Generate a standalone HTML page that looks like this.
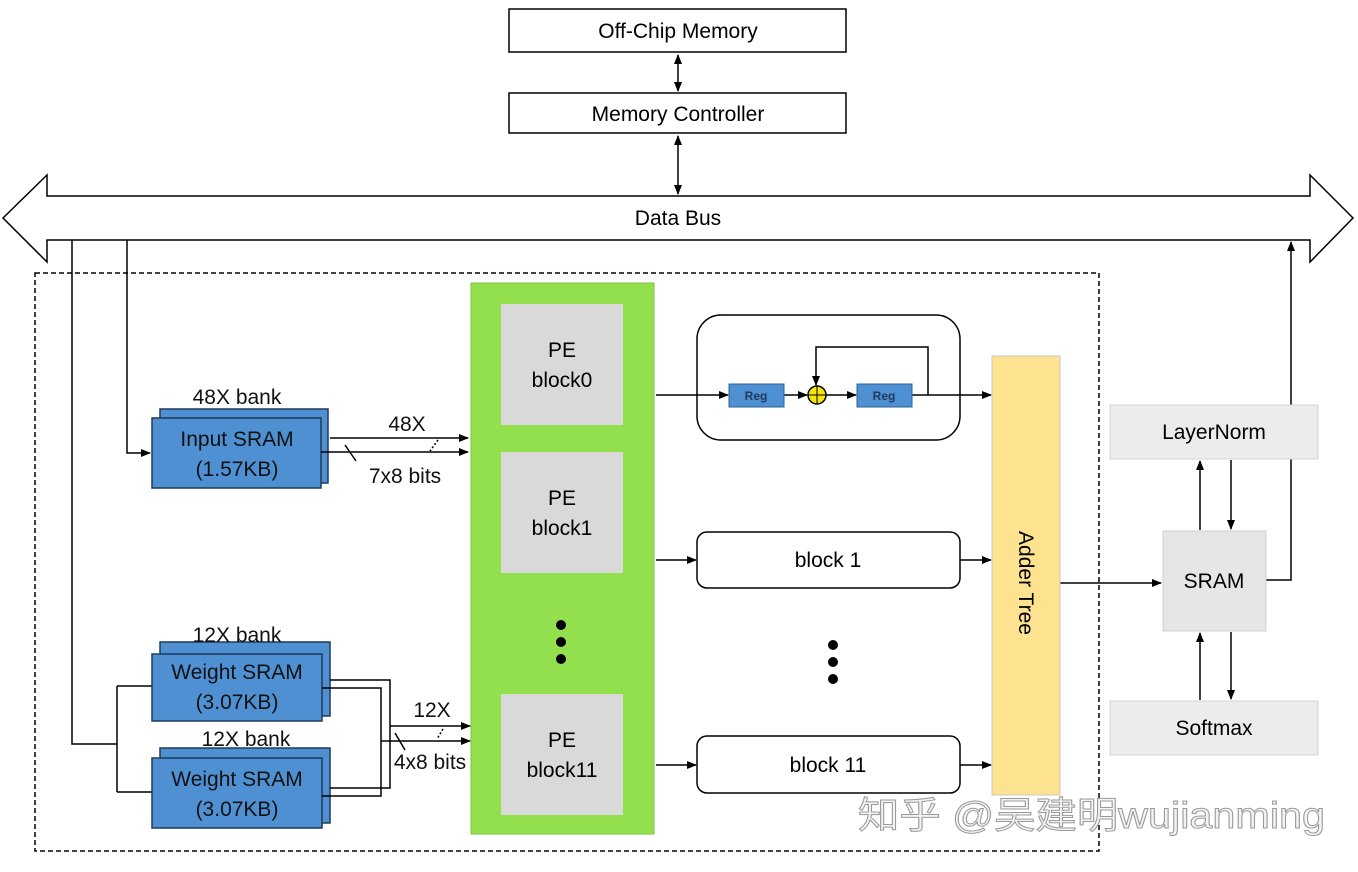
<!DOCTYPE html>
<html><head><meta charset="utf-8"><style>body{margin:0;background:#fff}svg{display:block}</style></head>
<body>
<svg width="1358" height="872" viewBox="0 0 1358 872" xmlns="http://www.w3.org/2000/svg" font-family="Liberation Sans, sans-serif">
<defs>
<marker id="a" markerWidth="10" markerHeight="10" refX="9" refY="5" orient="auto" markerUnits="userSpaceOnUse"><path d="M0,1 L10,5 L0,9z" fill="#000"/></marker>
<marker id="s" markerWidth="10" markerHeight="10" refX="1" refY="5" orient="auto" markerUnits="userSpaceOnUse"><path d="M10,1 L0,5 L10,9z" fill="#000"/></marker>
</defs>
<g stroke="#000" stroke-width="1.5" fill="none">
<rect x="509" y="9" width="337" height="43" fill="#fff"/>
<rect x="509" y="93" width="337" height="40" fill="#fff"/>
<line x1="678" y1="55" x2="678" y2="91" marker-end="url(#a)" marker-start="url(#s)"/>
<line x1="678" y1="136" x2="678" y2="194" marker-end="url(#a)" marker-start="url(#s)"/>
<path d="M3,218 L47,175 L47,196 L1310,196 L1310,175 L1353,218 L1310,262 L1310,240 L47,240 L47,262 Z" fill="#fff"/>
<rect x="35" y="273" width="1064" height="578" stroke-dasharray="5,3"/>
<path d="M127,240 V453 H150" marker-end="url(#a)"/>
<path d="M72,240 V744 H117 M117,686 V792 M117,686 H152 M117,792 H152"/>
</g>
<rect x="471" y="283" width="183" height="551" fill="#92e04e" stroke="#7cc63c"/>
<g fill="#d9d9d9"><rect x="501" y="304" width="122" height="121"/><rect x="501" y="452" width="122" height="121"/><rect x="501" y="694" width="122" height="121"/></g>
<g font-size="21" text-anchor="middle" fill="#000" font-weight="500">
<text x="562" y="357">PE</text><text x="562" y="387">block0</text>
<text x="562" y="505">PE</text><text x="562" y="535">block1</text>
<text x="562" y="747">PE</text><text x="562" y="777">block11</text>
</g>
<g fill="#000"><circle cx="561" cy="625" r="5"/><circle cx="561" cy="642" r="5"/><circle cx="561" cy="659" r="5"/>
<circle cx="833" cy="645" r="5"/><circle cx="833" cy="662" r="5"/><circle cx="833" cy="679" r="5"/></g>
<g stroke="#1f3a5a" stroke-width="1.5" fill="#4f90d3">
<rect x="160" y="409" width="168" height="74"/><rect x="152" y="418" width="169" height="70"/>
<rect x="160" y="642" width="170" height="74"/><rect x="152" y="654" width="170" height="67"/>
<rect x="160" y="748" width="170" height="75"/><rect x="152" y="758" width="170" height="70"/>
</g>
<g font-size="21" text-anchor="middle" fill="#111">
<text x="237" y="404">48X bank</text>
<text x="237" y="446">Input SRAM</text><text x="237" y="476">(1.57KB)</text>
<text x="237" y="642">12X bank</text>
<text x="237" y="679">Weight SRAM</text><text x="237" y="709">(3.07KB)</text>
<text x="246" y="746">12X bank</text>
<text x="237" y="786">Weight SRAM</text><text x="237" y="816">(3.07KB)</text>
<text x="407" y="431">48X</text><text x="405" y="483">7x8 bits</text>
<text x="432" y="717">12X</text><text x="430" y="769">4x8 bits</text>
</g>
<g stroke="#000" stroke-width="1.5" fill="none">
<line x1="330" y1="438" x2="468" y2="438" marker-end="url(#a)"/>
<line x1="321" y1="452" x2="468" y2="452" marker-end="url(#a)"/>
<line x1="345" y1="445" x2="356" y2="461"/>
<line x1="438" y1="440" x2="430" y2="451" stroke-dasharray="2,2"/>
<path d="M330,680 H390 V788 H330"/>
<path d="M322,688 H381 V796 H322"/>
<line x1="390" y1="726" x2="470" y2="726" marker-end="url(#a)"/>
<line x1="381" y1="741" x2="470" y2="741" marker-end="url(#a)"/>
<line x1="395" y1="733" x2="405" y2="750"/>
<line x1="443" y1="729" x2="437" y2="739" stroke-dasharray="2,2"/>
<rect x="697" y="315" width="263" height="125" rx="24"/>
<line x1="656" y1="395" x2="728" y2="395" marker-end="url(#a)"/>
<line x1="784" y1="395" x2="807" y2="395" marker-end="url(#a)"/>
<line x1="826" y1="395" x2="856" y2="395" marker-end="url(#a)"/>
<line x1="912" y1="395" x2="991" y2="395" marker-end="url(#a)"/>
<path d="M928,395 V347 H816 V385" marker-end="url(#a)"/>
<rect x="697" y="532" width="263" height="56" rx="10"/>
<rect x="697" y="736" width="263" height="57" rx="10"/>
<line x1="656" y1="560" x2="696" y2="560" marker-end="url(#a)"/>
<line x1="960" y1="560" x2="991" y2="560" marker-end="url(#a)"/>
<line x1="656" y1="765" x2="696" y2="765" marker-end="url(#a)"/>
<line x1="960" y1="765" x2="991" y2="765" marker-end="url(#a)"/>
<line x1="1060" y1="583" x2="1161" y2="583" marker-end="url(#a)"/>
<line x1="1200" y1="530" x2="1200" y2="461" marker-end="url(#a)"/>
<line x1="1231" y1="460" x2="1231" y2="529" marker-end="url(#a)"/>
<line x1="1200" y1="700" x2="1200" y2="633" marker-end="url(#a)"/>
<line x1="1231" y1="632" x2="1231" y2="699" marker-end="url(#a)"/>
<path d="M1266,580 H1291 V242" marker-end="url(#a)"/>
</g>
<rect x="729" y="384" width="55" height="23" fill="#4f90d3" stroke="#2d5f95"/>
<rect x="857" y="384" width="55" height="23" fill="#4f90d3" stroke="#2d5f95"/>
<circle cx="817" cy="395" r="9" fill="#f5e50a" stroke="#000" stroke-width="1.5"/>
<line x1="808" y1="395" x2="826" y2="395" stroke="#000"/><line x1="817" y1="386" x2="817" y2="404" stroke="#000"/>
<g font-size="12" font-weight="bold" text-anchor="middle" fill="#1f3a5a"><text x="756" y="400">Reg</text><text x="884" y="400">Reg</text></g>
<rect x="992" y="356" width="68" height="439" fill="#fde28f" stroke="#c9c9c9"/>
<rect x="1163" y="531" width="103" height="100" fill="#e6e6e6" stroke="#d0d0d0"/>
<rect x="1110" y="405" width="208" height="54" fill="#ececec" stroke="#d5d5d5"/>
<rect x="1110" y="701" width="208" height="54" fill="#ececec" stroke="#d5d5d5"/>
<g font-size="21" text-anchor="middle" fill="#000" font-weight="500">
<text x="678" y="38">Off-Chip Memory</text>
<text x="678" y="121">Memory Controller</text>
<text x="678" y="225">Data Bus</text>
<text x="828" y="567">block 1</text>
<text x="828" y="772">block 11</text>
<text x="1214" y="588">SRAM</text>
<text x="1214" y="439">LayerNorm</text>
<text x="1214" y="735">Softmax</text>
<text transform="translate(1019,583) rotate(90)">Adder Tree</text>
</g>
<text x="858" y="828" font-size="37" textLength="467" lengthAdjust="spacingAndGlyphs" fill="#f4f4f4" stroke="#9a9a9a" stroke-width="1" font-family="Liberation Sans, Noto Sans CJK SC, sans-serif">知乎 @吴建明wujianming</text>
</svg>
</body></html>
